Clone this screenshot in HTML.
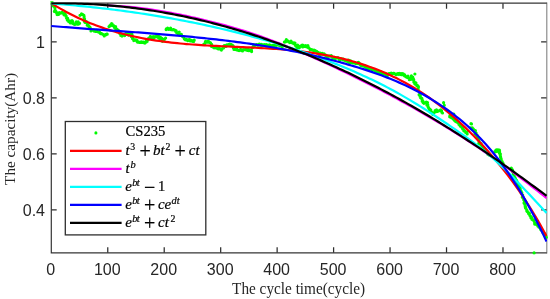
<!DOCTYPE html>
<html><head><meta charset="utf-8"><title>Capacity fit</title>
<style>
html,body{margin:0;padding:0;background:#fff;}
body{width:550px;height:299px;overflow:hidden;}
svg{display:block}
.sans text{font-family:"Liberation Sans",Arial,Helvetica,sans-serif;font-size:16px;fill:#262626}
.serif{font-family:"Liberation Serif","Times New Roman",Times,serif;fill:#262626}
</style></head><body>
<svg width="550" height="299" viewBox="0 0 550 299">
<rect width="550" height="299" fill="#fff"/>
<path d="M107.76,252.8v-5.6M107.76,3.2v5.6M164.22,252.8v-5.6M164.22,3.2v5.6M220.68,252.8v-5.6M220.68,3.2v5.6M277.14,252.8v-5.6M277.14,3.2v5.6M333.60,252.8v-5.6M333.60,3.2v5.6M390.06,252.8v-5.6M390.06,3.2v5.6M446.52,252.8v-5.6M446.52,3.2v5.6M502.98,252.8v-5.6M502.98,3.2v5.6M51.3,41.9h5.4M546.5,41.9h-5.4M51.3,97.9h5.4M546.5,97.9h-5.4M51.3,153.9h5.4M546.5,153.9h-5.4M51.3,209.9h5.4M546.5,209.9h-5.4" stroke="#2e2e2e" stroke-width="1.25" fill="none"/>
<path d="M546.8,3.2H51.3V252.8H546.8" fill="none" stroke="#363636" stroke-width="1.2" stroke-linejoin="miter"/>
<path d="M546.8,2.6V253.4" fill="none" stroke="#363636" stroke-width="1.1" stroke-opacity="0.62"/>
<defs><clipPath id="c"><rect x="51.0" y="2.2" width="496.0" height="251.60000000000002"/></clipPath>
<clipPath id="d"><rect x="49.3" y="1.2000000000000002" width="499.2" height="253.60000000000002"/></clipPath></defs>
<path clip-path="url(#d)" d="M52.0,3.8h0M51.9,1.6h0M52.7,4.2h0M52.8,4.3h0M53.6,5.1h0M53.3,6.0h0M53.9,5.6h0M54.7,7.5h0M55.0,7.8h0M54.4,11.4h0M55.0,10.1h0M55.4,10.6h0M55.4,11.4h0M56.3,11.9h0M56.1,12.3h0M57.0,13.4h0M57.1,14.6h0M58.3,14.2h0M58.5,14.4h0M59.0,13.0h0M59.3,12.6h0M60.7,13.1h0M61.2,12.8h0M62.0,12.4h0M62.9,12.9h0M63.5,13.6h0M64.0,14.8h0M64.7,13.7h0M65.2,14.2h0M66.1,15.8h0M65.6,15.3h0M66.1,16.5h0M66.5,18.0h0M66.9,18.6h0M67.3,19.0h0M67.3,20.1h0M67.7,18.4h0M68.7,21.6h0M69.5,20.9h0M70.0,21.1h0M70.3,23.0h0M70.8,22.9h0M71.5,21.6h0M72.0,20.6h0M72.7,21.4h0M72.7,22.0h0M73.4,23.7h0M73.7,24.0h0M74.3,24.3h0M74.8,24.4h0M76.0,22.9h0M76.3,21.9h0M76.7,23.2h0M76.2,23.9h0M77.0,24.1h0M77.4,24.1h0M78.3,24.2h0M78.2,21.9h0M79.6,23.3h0M80.0,15.3h0M81.5,13.9h0M82.0,14.3h0M82.9,14.6h0M83.9,15.3h0M84.1,16.5h0M84.2,18.3h0M84.1,17.6h0M84.6,19.1h0M84.2,19.5h0M84.3,21.3h0M85.0,21.4h0M85.1,22.4h0M86.3,21.5h0M86.5,22.7h0M87.3,23.0h0M87.2,25.2h0M87.6,25.3h0M88.2,25.3h0M88.9,25.9h0M89.1,27.1h0M89.8,27.0h0M90.2,27.5h0M91.1,29.1h0M91.0,31.0h0M91.9,29.9h0M92.1,30.2h0M92.9,29.9h0M93.7,29.9h0M94.4,31.2h0M95.6,31.5h0M96.6,31.1h0M97.2,31.5h0M98.0,31.8h0M98.9,32.2h0M99.3,31.6h0M100.0,32.8h0M100.5,33.6h0M100.9,33.4h0M102.2,34.0h0M102.3,34.1h0M103.7,34.8h0M104.2,35.9h0M105.2,35.1h0M105.5,34.7h0M105.9,34.8h0M106.8,34.1h0M107.2,34.2h0M109.0,26.6h0M109.9,26.1h0M110.1,25.3h0M110.9,24.6h0M111.6,23.7h0M111.8,24.7h0M112.1,23.9h0M112.7,25.7h0M113.6,25.6h0M114.5,27.6h0M115.0,28.2h0M115.6,26.7h0M115.9,28.7h0M116.6,29.1h0M117.0,29.1h0M117.6,30.7h0M117.9,30.6h0M118.4,30.3h0M119.1,32.0h0M119.3,32.8h0M119.8,33.6h0M120.6,33.5h0M120.8,35.4h0M122.0,36.1h0M122.1,35.0h0M122.5,35.0h0M123.6,35.1h0M124.2,34.4h0M124.7,35.6h0M125.9,34.3h0M126.2,33.3h0M126.4,33.1h0M128.1,33.4h0M128.6,35.1h0M129.9,33.6h0M130.2,33.9h0M130.8,34.3h0M132.0,34.4h0M131.5,36.7h0M132.1,35.6h0M132.6,37.3h0M132.4,37.7h0M132.6,38.7h0M132.8,38.3h0M133.8,40.6h0M134.1,39.7h0M135.1,40.2h0M135.9,39.9h0M137.0,40.4h0M137.1,41.6h0M137.7,42.2h0M138.9,42.2h0M139.4,42.5h0M140.4,42.3h0M141.2,41.9h0M142.2,42.5h0M142.6,42.4h0M143.5,42.1h0M143.7,42.7h0M144.9,43.1h0M146.2,42.1h0M146.2,41.1h0M146.7,41.2h0M147.1,41.4h0M148.1,39.4h0M148.5,38.8h0M148.7,38.2h0M149.7,38.6h0M150.4,36.4h0M151.3,37.7h0M151.8,38.1h0M153.2,36.7h0M153.7,38.1h0M154.3,37.3h0M155.0,36.5h0M155.9,36.8h0M157.0,35.5h0M157.4,36.3h0M158.6,38.1h0M159.2,36.6h0M160.1,38.7h0M160.8,37.7h0M161.0,39.0h0M160.9,39.1h0M161.9,38.3h0M162.3,40.1h0M162.5,41.3h0M163.1,40.6h0M163.4,39.9h0M164.0,40.5h0M164.5,39.2h0M165.6,38.0h0M166.1,29.6h0M166.3,28.9h0M167.6,28.1h0M167.9,28.6h0M168.8,29.4h0M170.0,28.6h0M170.6,28.1h0M171.3,29.7h0M172.2,29.8h0M173.3,29.7h0M173.9,29.8h0M174.8,30.2h0M175.6,30.5h0M175.6,31.3h0M176.2,30.9h0M176.8,33.0h0M177.7,32.9h0M178.4,34.4h0M179.2,32.1h0M179.6,34.3h0M180.4,34.8h0M181.4,34.4h0M181.6,35.5h0M182.5,36.3h0M183.0,36.8h0M183.2,36.7h0M183.9,37.6h0M184.4,39.0h0M185.4,39.8h0M186.4,39.3h0M186.5,39.6h0M187.3,39.9h0M187.6,40.7h0M189.0,39.7h0M189.7,39.7h0M190.3,40.9h0M191.5,40.4h0M191.7,41.0h0M192.9,41.5h0M193.7,41.5h0M194.2,40.2h0M203.9,44.1h0M204.7,43.8h0M205.4,41.7h0M205.7,41.3h0M207.2,42.2h0M207.7,41.6h0M208.3,41.1h0M209.4,42.0h0M209.6,42.5h0M210.5,42.8h0M211.4,44.1h0M211.7,44.5h0M211.3,46.1h0M211.5,46.5h0M212.5,46.7h0M213.7,47.4h0M214.1,47.8h0M215.0,47.6h0M216.0,46.5h0M216.4,48.1h0M217.4,47.8h0M218.4,49.0h0M219.1,48.2h0M219.8,48.8h0M220.3,48.9h0M221.4,50.1h0M221.9,49.2h0M222.8,48.2h0M223.5,47.9h0M223.2,46.8h0M223.3,46.5h0M224.2,45.7h0M225.0,45.5h0M226.0,46.5h0M226.8,44.9h0M227.1,45.2h0M228.0,44.9h0M229.3,45.4h0M229.5,44.1h0M230.9,44.4h0M231.3,44.7h0M232.3,45.2h0M232.7,45.5h0M233.1,45.9h0M233.4,46.4h0M233.4,48.0h0M234.0,49.4h0M234.7,49.0h0M235.5,49.3h0M236.5,49.8h0M236.9,49.2h0M237.5,49.9h0M238.2,50.3h0M239.1,50.6h0M240.2,50.2h0M240.6,49.3h0M241.9,50.7h0M242.5,50.9h0M243.2,49.5h0M243.7,49.8h0M244.9,49.6h0M245.8,49.8h0M246.0,48.3h0M247.5,50.5h0M248.4,49.4h0M248.9,50.7h0M249.7,50.1h0M251.0,50.0h0M251.5,50.4h0M251.6,51.6h0M252.2,47.8h0M252.9,47.2h0M253.3,46.7h0M253.8,44.8h0M254.3,46.3h0M255.2,45.0h0M255.5,45.0h0M256.6,44.5h0M257.8,45.2h0M258.8,44.4h0M259.5,44.1h0M259.9,44.9h0M261.1,45.5h0M261.6,44.4h0M262.8,45.5h0M263.4,44.9h0M264.5,44.5h0M265.8,46.0h0M266.2,44.6h0M267.4,45.9h0M267.7,45.1h0M268.4,45.9h0M269.6,44.9h0M270.5,45.3h0M270.8,46.5h0M271.8,45.9h0M272.2,45.7h0M273.4,45.3h0M274.5,45.7h0M275.1,44.4h0M275.8,44.6h0M276.4,45.3h0M277.7,45.0h0M278.7,45.1h0M279.4,45.6h0M280.2,45.7h0M280.6,45.7h0M282.2,47.0h0M284.4,42.1h0M284.9,41.6h0M285.6,41.8h0M286.3,39.6h0M287.7,40.9h0M287.6,41.1h0M288.6,41.7h0M289.7,42.6h0M290.6,42.3h0M291.0,41.1h0M292.0,42.4h0M292.7,43.1h0M293.5,43.5h0M294.0,42.9h0M295.0,43.1h0M295.2,45.1h0M296.0,45.6h0M295.9,46.0h0M296.9,45.5h0M296.9,48.3h0M297.6,45.0h0M298.9,46.4h0M299.3,47.7h0M300.4,46.0h0M300.8,46.1h0M302.2,45.2h0M302.7,46.9h0M303.2,45.3h0M304.3,46.4h0M305.3,46.4h0M305.7,45.7h0M306.8,47.0h0M307.9,45.7h0M308.2,46.8h0M308.5,47.8h0M309.0,48.0h0M310.0,49.0h0M310.2,49.7h0M310.4,49.4h0M311.7,49.7h0M312.3,50.1h0M313.8,50.2h0M314.2,50.9h0M314.7,50.3h0M315.3,51.2h0M316.3,51.4h0M316.6,51.4h0M317.3,53.0h0M318.1,52.3h0M318.8,53.5h0M319.5,54.7h0M320.3,53.2h0M321.4,54.1h0M322.3,53.3h0M322.2,54.2h0M324.1,53.8h0M324.2,54.7h0M325.3,54.8h0M325.6,55.5h0M326.6,56.6h0M327.4,56.0h0M328.1,56.4h0M329.1,56.2h0M329.8,56.2h0M330.2,56.1h0M331.2,55.6h0M332.2,57.1h0M332.9,58.3h0M333.5,57.7h0M334.3,57.3h0M335.1,58.9h0M335.6,57.8h0M336.3,57.9h0M337.8,57.7h0M338.1,58.1h0M339.0,58.7h0M339.6,60.4h0M340.9,59.2h0M341.8,58.8h0M342.1,59.3h0M343.0,59.8h0M343.5,59.0h0M344.9,60.4h0M345.5,61.0h0M345.8,61.0h0M347.1,61.3h0M347.7,60.3h0M348.5,60.2h0M349.2,62.4h0M349.8,62.4h0M350.6,60.9h0M351.6,62.3h0M352.3,62.3h0M352.8,62.9h0M354.3,62.8h0M354.6,62.6h0M355.3,63.3h0M356.0,63.5h0M357.1,63.6h0M357.9,62.7h0M358.5,62.3h0M359.4,64.0h0M359.6,63.7h0M360.6,65.2h0M361.4,65.7h0M362.2,65.7h0M363.1,65.6h0M363.3,66.1h0M365.3,67.1h0M365.1,66.1h0M366.1,67.5h0M367.0,67.7h0M367.7,67.7h0M368.3,68.8h0M368.3,67.6h0M369.5,69.0h0M370.7,68.1h0M371.0,68.5h0M371.8,68.6h0M372.2,69.9h0M373.8,69.3h0M374.4,70.2h0M374.8,69.8h0M375.7,71.5h0M376.5,72.3h0M377.0,71.6h0M377.9,72.8h0M378.8,72.4h0M379.6,73.7h0M380.6,72.7h0M381.0,71.9h0M381.6,74.2h0M382.6,73.5h0M383.1,73.2h0M383.7,73.7h0M385.0,73.4h0M385.4,74.5h0M386.3,74.0h0M387.3,75.7h0M387.6,75.2h0M388.9,73.7h0M389.6,73.6h0M390.3,74.0h0M391.2,73.0h0M391.7,73.9h0M392.1,73.8h0M393.4,73.3h0M394.0,73.4h0M395.3,74.0h0M395.9,74.6h0M396.5,74.6h0M397.5,73.7h0M398.6,74.3h0M399.3,73.4h0M399.9,74.3h0M400.8,73.5h0M401.4,74.7h0M402.2,73.5h0M403.2,73.9h0M403.7,75.0h0M404.4,75.8h0M404.7,74.9h0M405.3,76.0h0M406.0,76.8h0M407.0,77.3h0M408.1,77.0h0M408.7,78.1h0M408.9,78.2h0M409.4,79.7h0M410.7,78.7h0M411.3,77.0h0M411.4,75.9h0M412.7,77.0h0M412.7,78.5h0M413.3,78.6h0M413.3,79.8h0M413.7,79.7h0M413.8,79.9h0M413.8,82.0h0M414.2,82.3h0M414.6,83.4h0M415.5,82.6h0M415.5,84.3h0M415.9,84.4h0M417.0,85.9h0M417.6,85.6h0M418.2,86.3h0M418.5,86.9h0M418.3,88.8h0M419.1,94.7h0M419.6,95.4h0M420.1,96.4h0M420.3,95.6h0M420.6,97.7h0M421.5,98.5h0M421.9,98.4h0M422.2,99.8h0M422.2,101.2h0M422.9,101.2h0M423.1,102.6h0M423.9,103.3h0M424.3,102.8h0M425.4,102.7h0M426.3,102.0h0M427.1,102.9h0M427.5,102.5h0M427.0,103.2h0M426.9,104.9h0M427.8,104.8h0M428.0,106.4h0M428.3,107.5h0M428.5,107.6h0M429.0,108.3h0M429.3,109.5h0M429.4,110.1h0M430.1,109.3h0M430.8,110.1h0M430.9,112.6h0M431.9,112.7h0M431.5,111.8h0M432.2,113.0h0M432.9,114.6h0M432.9,113.7h0M433.2,113.9h0M433.6,113.0h0M434.2,112.5h0M435.1,110.7h0M435.3,111.2h0M435.9,111.7h0M436.5,109.9h0M437.6,111.3h0M438.3,111.1h0M438.8,110.8h0M439.8,110.4h0M440.7,109.8h0M441.5,110.6h0M441.8,112.2h0M442.5,113.0h0M449.7,116.8h0M449.9,115.6h0M450.8,115.8h0M451.6,117.8h0M452.0,118.0h0M452.8,118.3h0M453.3,119.1h0M454.0,119.2h0M454.4,120.3h0M455.2,120.3h0M455.7,121.6h0M456.6,120.8h0M456.7,121.6h0M457.8,122.7h0M458.7,122.9h0M459.0,124.4h0M459.4,124.6h0M460.0,124.9h0M460.2,126.1h0M460.7,126.3h0M461.3,126.3h0M461.8,127.3h0M462.6,128.2h0M462.7,129.0h0M463.9,129.9h0M463.9,130.9h0M464.8,131.2h0M465.7,132.5h0M466.6,132.6h0M466.9,132.2h0M467.2,133.9h0M470.8,127.8h0M471.8,128.1h0M472.3,127.9h0M472.9,128.5h0M473.6,129.3h0M474.2,130.3h0M475.0,131.4h0M475.4,130.7h0M475.0,133.8h0M476.1,133.0h0M476.0,133.5h0M476.3,134.9h0M477.1,135.3h0M477.0,137.5h0M477.4,137.5h0M477.9,137.3h0M477.8,138.1h0M477.9,138.8h0M478.5,139.7h0M479.0,141.1h0M479.0,141.0h0M478.8,143.3h0M479.4,142.9h0M480.0,143.5h0M480.9,144.9h0M481.1,143.7h0M481.6,145.1h0M482.1,146.8h0M482.2,147.1h0M482.8,147.7h0M483.4,148.6h0M483.6,148.5h0M484.5,149.4h0M485.2,149.2h0M485.4,149.4h0M486.4,152.1h0M486.9,151.2h0M487.5,152.0h0M487.6,154.0h0M488.4,154.4h0M489.3,154.0h0M489.7,154.6h0M489.8,155.5h0M494.8,151.7h0M495.5,151.8h0M495.8,150.3h0M496.4,149.9h0M497.2,151.3h0M497.8,149.9h0M498.7,150.0h0M499.4,150.0h0M499.6,151.0h0M499.4,153.2h0M499.8,153.0h0M499.5,153.1h0M500.4,154.1h0M500.3,155.5h0M500.6,156.9h0M500.4,156.7h0M500.8,158.5h0M501.1,158.5h0M501.3,159.9h0M501.1,160.8h0M502.0,161.6h0M502.2,161.6h0M502.4,162.6h0M503.0,163.8h0M503.1,163.4h0M503.4,165.1h0M511.3,168.1h0M511.6,169.4h0M512.5,169.9h0M512.6,170.5h0M512.4,170.7h0M512.7,171.8h0M513.3,173.2h0M513.3,174.5h0M514.2,174.5h0M514.0,176.2h0M514.0,176.0h0M514.3,176.1h0M515.2,178.0h0M514.9,177.7h0M515.7,179.3h0M516.0,180.5h0M516.6,180.3h0M516.8,181.2h0M516.9,183.6h0M517.5,182.8h0M517.7,183.6h0M518.3,184.7h0M518.4,184.8h0M519.3,185.5h0M519.1,186.6h0M519.5,185.6h0M519.5,188.8h0M520.0,188.0h0M520.2,188.7h0M520.5,190.6h0M521.0,191.0h0M520.9,190.9h0M521.1,192.6h0M521.8,192.5h0M521.8,193.6h0M521.9,193.8h0M522.7,195.0h0M522.8,196.6h0M522.3,197.2h0M523.1,198.1h0M523.7,199.3h0M523.9,199.4h0M523.7,199.8h0M524.4,200.9h0M524.0,202.9h0M524.3,202.7h0M524.5,203.6h0M524.7,204.2h0M525.1,205.2h0M525.3,206.1h0M525.2,206.6h0M525.7,207.3h0M525.4,207.7h0M525.9,208.4h0M526.8,209.9h0M526.8,210.9h0M527.4,211.7h0M527.4,211.8h0M528.0,211.9h0M528.5,213.5h0M529.1,214.1h0M529.4,213.4h0M529.9,215.6h0M530.4,216.2h0M530.9,217.7h0M530.9,216.6h0M531.4,217.2h0M531.9,219.2h0M531.9,218.3h0M532.2,219.6h0M533.5,220.1h0M533.9,220.8h0M534.0,220.9h0M534.5,222.6h0M534.7,224.1h0M535.3,224.1h0M536.4,224.5h0M536.7,224.3h0M537.8,226.1h0M538.0,226.1h0M538.8,227.1h0M539.7,226.0h0M540.2,227.9h0M540.2,227.6h0M541.0,229.2h0M540.9,229.8h0M541.5,229.6h0M542.2,231.1h0M542.9,232.4h0M542.9,232.6h0M543.7,233.3h0M544.0,233.1h0M544.1,233.9h0M544.9,234.3h0M545.8,235.7h0M545.8,237.1h0M546.4,237.3h0M414.9,74.0h0M405.0,75.5h0M408.0,76.2h0M411.0,79.3h0M413.0,79.5h0M416.0,83.0h0M443.6,102.7h0M444.3,105.3h0M453.8,114.2h0M471.0,123.7h0M471.5,123.9h0M534.1,252.9h0" fill="none" stroke="#00fa00" stroke-width="3.2" stroke-linecap="round"/>
<g clip-path="url(#c)" fill="none" stroke-width="2.2" stroke-linejoin="round">
<path d="M51.3,3.29 L54.3,5.13 L57.3,6.92 L60.3,8.65 L63.3,10.33 L66.3,11.96 L69.3,13.53 L72.3,15.05 L75.3,16.52 L78.3,17.95 L81.3,19.32 L84.3,20.65 L87.3,21.92 L90.3,23.16 L93.3,24.35 L96.3,25.49 L99.3,26.59 L102.3,27.65 L105.3,28.67 L108.3,29.65 L111.3,30.59 L114.3,31.49 L117.3,32.35 L120.3,33.18 L123.3,33.97 L126.3,34.73 L129.3,35.45 L132.3,36.14 L135.3,36.80 L138.3,37.43 L141.3,38.02 L144.3,38.59 L147.3,39.13 L150.3,39.65 L153.3,40.13 L156.3,40.59 L159.3,41.03 L162.3,41.45 L165.3,41.84 L168.3,42.21 L171.3,42.56 L174.3,42.89 L177.3,43.20 L180.3,43.49 L183.3,43.77 L186.3,44.03 L189.3,44.27 L192.3,44.50 L195.3,44.72 L198.3,44.93 L201.3,45.12 L204.3,45.30 L207.3,45.48 L210.3,45.64 L213.3,45.80 L216.3,45.95 L219.3,46.10 L222.3,46.24 L225.3,46.38 L228.3,46.51 L231.3,46.65 L234.3,46.78 L237.3,46.91 L240.3,47.04 L243.3,47.17 L246.3,47.31 L249.3,47.45 L252.3,47.59 L255.3,47.74 L258.3,47.90 L261.3,48.06 L264.3,48.24 L267.3,48.42 L270.3,48.61 L273.3,48.81 L276.3,49.02 L279.3,49.25 L282.3,49.49 L285.3,49.75 L288.3,50.02 L291.3,50.31 L294.3,50.61 L297.3,50.94 L300.3,51.28 L303.3,51.64 L306.3,52.03 L309.3,52.44 L312.3,52.87 L315.3,53.32 L318.3,53.80 L321.3,54.31 L324.3,54.84 L327.3,55.40 L330.3,55.99 L333.3,56.61 L336.3,57.25 L339.3,57.94 L342.3,58.65 L345.3,59.40 L348.3,60.18 L351.3,60.99 L354.3,61.84 L357.3,62.73 L360.3,63.66 L363.3,64.63 L366.3,65.63 L369.3,66.68 L372.3,67.77 L375.3,68.90 L378.3,70.08 L381.3,71.30 L384.3,72.56 L387.3,73.88 L390.3,75.24 L393.3,76.65 L396.3,78.11 L399.3,79.62 L402.3,81.18 L405.3,82.80 L408.3,84.47 L411.3,86.19 L414.3,87.98 L417.3,89.82 L420.3,91.71 L423.3,93.67 L426.3,95.69 L429.3,97.77 L432.3,99.92 L435.3,102.12 L438.3,104.39 L441.3,106.73 L444.3,109.12 L447.3,111.58 L450.3,114.10 L453.3,116.69 L456.3,119.33 L459.3,122.04 L462.3,124.82 L465.3,127.65 L468.3,130.55 L471.3,133.52 L474.3,136.54 L477.3,139.63 L480.3,142.79 L483.3,146.01 L486.3,149.30 L489.3,152.66 L492.3,156.10 L495.3,159.63 L498.3,163.24 L501.3,166.94 L504.3,170.73 L507.3,174.62 L510.3,178.61 L513.3,182.70 L516.3,186.91 L519.3,191.22 L522.3,195.65 L525.3,200.20 L528.3,204.88 L531.3,209.68 L534.3,214.61 L537.3,219.68 L540.3,224.88 L543.3,230.23 L546.3,235.72 L546.5,236.10" stroke="#ff0000"/>
<path d="M108.3,5.39 L111.3,5.61 L114.3,5.85 L117.3,6.07 L120.3,6.26 L123.3,6.47 L126.3,6.70 L129.3,6.94 L132.3,7.19 L135.3,7.46 L138.3,7.81 L141.3,8.17 L144.3,8.54 L147.3,8.94 L150.3,9.34 L153.3,9.81 L156.3,10.29 L159.3,10.79 L162.3,11.30 L165.3,11.83 L168.3,12.37 L171.3,12.93 L174.3,13.50 L177.3,14.09 L180.3,14.69 L183.3,15.31 L186.3,15.94 L189.3,16.59 L192.3,17.25 L195.3,17.92 L198.3,18.62 L201.3,19.32 L204.3,20.03 L207.3,20.76 L210.3,21.50 L213.3,22.25 L216.3,23.02 L219.3,23.81 L222.3,24.61 L225.3,25.42 L228.3,26.25 L231.3,27.10 L234.3,27.96 L237.3,28.83 L240.3,29.72 L243.3,30.62 L246.3,31.54 L249.3,32.47 L252.3,33.48 L255.3,34.52 L258.3,35.58 L261.3,36.65 L264.3,37.74 L267.3,38.84 L270.3,39.96 L273.3,41.09 L276.3,42.24 L279.3,43.40 L282.3,44.57 L285.3,45.76 L288.3,46.97 L291.3,48.18 L294.3,49.42 L297.3,50.66 L300.3,51.92 L303.3,53.18 L306.3,54.46 L309.3,55.75 L312.3,57.06 L315.3,58.38 L318.3,59.71 L321.3,61.06 L324.3,62.42 L327.3,63.80 L330.3,65.19 L333.3,66.59 L336.3,68.01 L339.3,69.44 L342.3,70.89 L345.3,72.35 L348.3,73.83 L351.3,75.29 L354.3,76.73 L357.3,78.19 L360.3,79.66 L363.3,81.15 L366.3,82.65 L369.3,84.16 L372.3,85.69 L375.3,87.23 L378.3,88.78 L381.3,90.35 L384.3,91.93 L387.3,93.53 L390.3,95.14 L393.3,96.76 L396.3,98.40 L399.3,100.05 L402.3,101.69 L405.3,103.33 L408.3,104.98 L411.3,106.65 L414.3,108.33 L417.3,110.03 L420.3,111.74 L423.3,113.46 L426.3,115.20 L429.3,116.95 L432.3,118.71 L435.3,120.48 L438.3,122.27 L441.3,124.08 L444.3,125.91 L447.3,127.76 L450.3,129.62 L453.3,131.49 L456.3,133.37 L459.3,135.27 L462.3,137.17 L465.3,139.10 L468.3,141.03 L471.3,142.98 L474.3,144.96 L477.3,146.95 L480.3,148.96 L483.3,150.97 L486.3,153.00 L489.3,155.04 L492.3,157.09 L495.3,159.15 L498.3,161.23 L501.3,163.36 L504.3,165.56 L507.3,167.78 L510.3,170.01 L513.3,172.25 L516.3,174.50 L519.3,176.76 L522.3,179.06 L525.3,181.37 L528.3,183.70 L531.3,186.04 L534.3,188.39 L537.3,190.75 L540.3,193.12 L543.3,195.50 L546.3,197.90 L546.5,198.06" stroke="#ff00ff"/>
<path d="M51.3,3.48 L54.3,3.71 L57.3,3.95 L60.3,4.19 L63.3,4.44 L66.3,4.70 L69.3,4.96 L72.3,5.23 L75.3,5.51 L78.3,5.79 L81.3,6.08 L84.3,6.38 L87.3,6.69 L90.3,7.00 L93.3,7.32 L96.3,7.64 L99.3,7.98 L102.3,8.32 L105.3,8.67 L108.3,9.03 L111.3,9.39 L114.3,9.76 L117.3,10.14 L120.3,10.53 L123.3,10.93 L126.3,11.33 L129.3,11.75 L132.3,12.17 L135.3,12.60 L138.3,13.03 L141.3,13.48 L144.3,13.93 L147.3,14.40 L150.3,14.87 L153.3,15.35 L156.3,15.84 L159.3,16.34 L162.3,16.84 L165.3,17.36 L168.3,17.89 L171.3,18.42 L174.3,18.96 L177.3,19.52 L180.3,20.08 L183.3,20.65 L186.3,21.23 L189.3,21.82 L192.3,22.42 L195.3,23.03 L198.3,23.65 L201.3,24.28 L204.3,24.92 L207.3,25.57 L210.3,26.23 L213.3,26.90 L216.3,27.58 L219.3,28.28 L222.3,28.98 L225.3,29.69 L228.3,30.41 L231.3,31.14 L234.3,31.89 L237.3,32.64 L240.3,33.40 L243.3,34.18 L246.3,34.97 L249.3,35.76 L252.3,36.57 L255.3,37.39 L258.3,38.22 L261.3,39.07 L264.3,39.92 L267.3,40.79 L270.3,41.66 L273.3,42.55 L276.3,43.45 L279.3,44.36 L282.3,45.29 L285.3,46.22 L288.3,47.17 L291.3,48.13 L294.3,49.10 L297.3,50.08 L300.3,51.08 L303.3,52.09 L306.3,53.11 L309.3,54.14 L312.3,55.19 L315.3,56.25 L318.3,57.33 L321.3,58.42 L324.3,59.53 L327.3,60.66 L330.3,61.80 L333.3,62.96 L336.3,64.14 L339.3,65.33 L342.3,66.55 L345.3,67.78 L348.3,69.04 L351.3,70.31 L354.3,71.61 L357.3,72.92 L360.3,74.26 L363.3,75.63 L366.3,77.01 L369.3,78.42 L372.3,79.85 L375.3,81.31 L378.3,82.79 L381.3,84.30 L384.3,85.83 L387.3,87.39 L390.3,88.98 L393.3,90.59 L396.3,92.24 L399.3,93.91 L402.3,95.61 L405.3,97.34 L408.3,99.09 L411.3,100.88 L414.3,102.69 L417.3,104.52 L420.3,106.38 L423.3,108.26 L426.3,110.16 L429.3,112.09 L432.3,114.03 L435.3,115.99 L438.3,117.98 L441.3,119.98 L444.3,121.99 L447.3,124.02 L450.3,126.07 L453.3,128.13 L456.3,130.20 L459.3,132.28 L462.3,134.39 L465.3,136.52 L468.3,138.69 L471.3,140.88 L474.3,143.12 L477.3,145.41 L480.3,147.75 L483.3,150.14 L486.3,152.60 L489.3,155.13 L492.3,157.72 L495.3,160.37 L498.3,163.09 L501.3,165.87 L504.3,168.71 L507.3,171.61 L510.3,174.56 L513.3,177.58 L516.3,180.65 L519.3,183.77 L522.3,186.93 L525.3,190.13 L528.3,193.35 L531.3,196.59 L534.3,199.83 L537.3,203.08 L540.3,206.31 L543.3,209.52 L546.3,212.70 L546.5,212.91" stroke="#00ffff"/>
<path d="M51.3,26.00 L54.3,26.25 L57.3,26.50 L60.3,26.74 L63.3,26.99 L66.3,27.22 L69.3,27.46 L72.3,27.69 L75.3,27.92 L78.3,28.15 L81.3,28.37 L84.3,28.59 L87.3,28.81 L90.3,29.03 L93.3,29.25 L96.3,29.47 L99.3,29.68 L102.3,29.89 L105.3,30.11 L108.3,30.32 L111.3,30.53 L114.3,30.74 L117.3,30.96 L120.3,31.17 L123.3,31.38 L126.3,31.60 L129.3,31.81 L132.3,32.03 L135.3,32.25 L138.3,32.47 L141.3,32.69 L144.3,32.91 L147.3,33.14 L150.3,33.37 L153.3,33.60 L156.3,33.83 L159.3,34.07 L162.3,34.31 L165.3,34.56 L168.3,34.80 L171.3,35.06 L174.3,35.31 L177.3,35.57 L180.3,35.84 L183.3,36.11 L186.3,36.38 L189.3,36.66 L192.3,36.95 L195.3,37.24 L198.3,37.54 L201.3,37.84 L204.3,38.15 L207.3,38.47 L210.3,38.79 L213.3,39.12 L216.3,39.46 L219.3,39.80 L222.3,40.16 L225.3,40.51 L228.3,40.88 L231.3,41.26 L234.3,41.64 L237.3,42.04 L240.3,42.44 L243.3,42.85 L246.3,43.27 L249.3,43.70 L252.3,44.14 L255.3,44.59 L258.3,45.05 L261.3,45.52 L264.3,46.00 L267.3,46.49 L270.3,46.99 L273.3,47.50 L276.3,48.03 L279.3,48.56 L282.3,49.11 L285.3,49.67 L288.3,50.24 L291.3,50.83 L294.3,51.43 L297.3,52.04 L300.3,52.66 L303.3,53.30 L306.3,53.95 L309.3,54.61 L312.3,55.29 L315.3,55.98 L318.3,56.69 L321.3,57.41 L324.3,58.14 L327.3,58.89 L330.3,59.66 L333.3,60.44 L336.3,61.23 L339.3,62.05 L342.3,62.87 L345.3,63.72 L348.3,64.58 L351.3,65.46 L354.3,66.35 L357.3,67.26 L360.3,68.19 L363.3,69.14 L366.3,70.12 L369.3,71.11 L372.3,72.13 L375.3,73.17 L378.3,74.24 L381.3,75.34 L384.3,76.47 L387.3,77.63 L390.3,78.83 L393.3,80.05 L396.3,81.32 L399.3,82.62 L402.3,83.96 L405.3,85.34 L408.3,86.77 L411.3,88.23 L414.3,89.75 L417.3,91.30 L420.3,92.91 L423.3,94.57 L426.3,96.27 L429.3,98.03 L432.3,99.84 L435.3,101.71 L438.3,103.64 L441.3,105.62 L444.3,107.66 L447.3,109.77 L450.3,111.94 L453.3,114.19 L456.3,116.52 L459.3,118.92 L462.3,121.41 L465.3,123.99 L468.3,126.66 L471.3,129.42 L474.3,132.29 L477.3,135.25 L480.3,138.33 L483.3,141.52 L486.3,144.83 L489.3,148.25 L492.3,151.80 L495.3,155.48 L498.3,159.28 L501.3,163.23 L504.3,167.31 L507.3,171.54 L510.3,175.91 L513.3,180.43 L516.3,185.11 L519.3,189.94 L522.3,194.94 L525.3,200.09 L528.3,205.42 L531.3,210.91 L534.3,216.57 L537.3,222.41 L540.3,228.44 L543.3,234.64 L546.3,241.03 L546.5,241.46" stroke="#0000ff"/>
<path d="M51.3,3.31 L54.3,3.27 L57.3,3.25 L60.3,3.25 L63.3,3.26 L66.3,3.29 L69.3,3.33 L72.3,3.39 L75.3,3.47 L78.3,3.56 L81.3,3.66 L84.3,3.78 L87.3,3.92 L90.3,4.07 L93.3,4.23 L96.3,4.42 L99.3,4.61 L102.3,4.83 L105.3,5.05 L108.3,5.30 L111.3,5.56 L114.3,5.83 L117.3,6.12 L120.3,6.42 L123.3,6.74 L126.3,7.08 L129.3,7.43 L132.3,7.79 L135.3,8.17 L138.3,8.56 L141.3,8.97 L144.3,9.40 L147.3,9.84 L150.3,10.30 L153.3,10.77 L156.3,11.25 L159.3,11.75 L162.3,12.27 L165.3,12.80 L168.3,13.34 L171.3,13.90 L174.3,14.48 L177.3,15.07 L180.3,15.67 L183.3,16.29 L186.3,16.93 L189.3,17.58 L192.3,18.24 L195.3,18.92 L198.3,19.61 L201.3,20.32 L204.3,21.05 L207.3,21.79 L210.3,22.54 L213.3,23.31 L216.3,24.09 L219.3,24.89 L222.3,25.70 L225.3,26.52 L228.3,27.37 L231.3,28.22 L234.3,29.09 L237.3,29.98 L240.3,30.88 L243.3,31.79 L246.3,32.72 L249.3,33.66 L252.3,34.62 L255.3,35.59 L258.3,36.58 L261.3,37.58 L264.3,38.60 L267.3,39.63 L270.3,40.67 L273.3,41.73 L276.3,42.81 L279.3,43.90 L282.3,45.00 L285.3,46.12 L288.3,47.25 L291.3,48.39 L294.3,49.55 L297.3,50.73 L300.3,51.91 L303.3,53.12 L306.3,54.33 L309.3,55.57 L312.3,56.81 L315.3,58.07 L318.3,59.34 L321.3,60.63 L324.3,61.94 L327.3,63.25 L330.3,64.58 L333.3,65.93 L336.3,67.29 L339.3,68.66 L342.3,70.05 L345.3,71.45 L348.3,72.86 L351.3,74.29 L354.3,75.73 L357.3,77.19 L360.3,78.66 L363.3,80.15 L366.3,81.65 L369.3,83.16 L372.3,84.69 L375.3,86.23 L378.3,87.78 L381.3,89.35 L384.3,90.93 L387.3,92.53 L390.3,94.14 L393.3,95.76 L396.3,97.40 L399.3,99.05 L402.3,100.72 L405.3,102.39 L408.3,104.09 L411.3,105.79 L414.3,107.51 L417.3,109.25 L420.3,110.99 L423.3,112.75 L426.3,114.53 L429.3,116.31 L432.3,118.11 L435.3,119.93 L438.3,121.75 L441.3,123.59 L444.3,125.44 L447.3,127.31 L450.3,129.19 L453.3,131.08 L456.3,132.98 L459.3,134.89 L462.3,136.82 L465.3,138.76 L468.3,140.72 L471.3,142.68 L474.3,144.66 L477.3,146.65 L480.3,148.66 L483.3,150.67 L486.3,152.70 L489.3,154.74 L492.3,156.79 L495.3,158.85 L498.3,160.93 L501.3,163.02 L504.3,165.11 L507.3,167.22 L510.3,169.35 L513.3,171.48 L516.3,173.63 L519.3,175.78 L522.3,177.95 L525.3,180.13 L528.3,182.32 L531.3,184.53 L534.3,186.74 L537.3,188.96 L540.3,191.20 L543.3,193.45 L546.3,195.70 L546.5,195.86" stroke="#000000"/>
</g>
<g class="sans"><text x="50.8" y="274.9" text-anchor="middle">0</text><text x="107.3" y="274.9" text-anchor="middle">100</text><text x="163.7" y="274.9" text-anchor="middle">200</text><text x="220.2" y="274.9" text-anchor="middle">300</text><text x="276.6" y="274.9" text-anchor="middle">400</text><text x="333.1" y="274.9" text-anchor="middle">500</text><text x="389.6" y="274.9" text-anchor="middle">600</text><text x="446.0" y="274.9" text-anchor="middle">700</text><text x="502.5" y="274.9" text-anchor="middle">800</text><text x="45" y="47.8" text-anchor="end">1</text><text x="45" y="103.8" text-anchor="end">0.8</text><text x="45" y="159.8" text-anchor="end">0.6</text><text x="45" y="215.8" text-anchor="end">0.4</text></g>
<text class="serif" transform="translate(298.6,293.6) scale(0.9375,1)" font-size="16.3" text-anchor="middle">The cycle time(cycle)</text>
<text class="serif" transform="translate(14.5,128.9) rotate(-90) scale(0.982,1)" font-size="15.5" text-anchor="middle">The capacity(Ahr)</text>
<rect x="65.3" y="121.5" width="140.5" height="113.4" fill="#fff" stroke="#2e2e2e" stroke-width="1.3"/>
<g stroke-width="2.2" fill="none">
<path d="M95.9,132.9h0" stroke="#00fa00" stroke-width="3.1" stroke-linecap="round"/>
<path d="M70,150.9H121.6" stroke="#ff0000"/><path d="M70,168.9H121.6" stroke="#ff00ff"/><path d="M70,186.9H121.6" stroke="#00ffff"/><path d="M70,204.9H121.6" stroke="#0000ff"/><path d="M70,222.9H121.6" stroke="#000000"/>
</g>
<g class="serif" font-size="14.6" style="fill:#000;stroke:#000;stroke-width:0.2">
<text x="125.55" y="136.3">CS235</text>
<text><tspan x="125.5" y="154.9" font-style="italic" font-size="15">t</tspan><tspan x="130.35" y="150.1" font-size="9.8">3</tspan><tspan x="145.05" y="157.9" font-size="20" text-anchor="middle">+</tspan><tspan x="153.0" y="154.9" font-style="italic" font-size="15">b</tspan><tspan x="160.5" y="154.9" font-style="italic" font-size="15">t</tspan><tspan x="165.6" y="150.1" font-size="9.8">2</tspan><tspan x="180.1" y="157.9" font-size="20" text-anchor="middle">+</tspan><tspan x="188.7" y="154.9" font-style="italic" font-size="15">c</tspan><tspan x="195.6" y="154.9" font-style="italic" font-size="15">t</tspan></text>
<text><tspan x="125.5" y="172.9" font-style="italic" font-size="15">t</tspan><tspan x="130.4" y="168.1" font-size="10.4" font-style="italic">b</tspan></text>
<text><tspan x="125.2" y="191.0" font-style="italic" font-size="15">e</tspan><tspan x="132.2" y="186.2" font-size="10.4" font-style="italic">b</tspan><tspan x="136.7" y="186.2" font-size="10.4" font-style="italic">t</tspan><tspan x="149.7" y="194.0" font-size="20" text-anchor="middle">−</tspan><tspan x="158.1" y="191.0">1</tspan></text>
<text><tspan x="125.2" y="209.0" font-style="italic" font-size="15">e</tspan><tspan x="132.2" y="204.2" font-size="10.4" font-style="italic">b</tspan><tspan x="136.7" y="204.2" font-size="10.4" font-style="italic">t</tspan><tspan x="149.6" y="212.0" font-size="20" text-anchor="middle">+</tspan><tspan x="157.9" y="209.0" font-style="italic" font-size="15">c</tspan><tspan x="164.5" y="209.0" font-style="italic" font-size="15">e</tspan><tspan x="171.55" y="204.2" font-size="10.4" font-style="italic">d</tspan><tspan x="176.8" y="204.2" font-size="10.4" font-style="italic">t</tspan></text>
<text><tspan x="125.2" y="227.1" font-style="italic" font-size="15">e</tspan><tspan x="132.2" y="222.3" font-size="10.4" font-style="italic">b</tspan><tspan x="136.7" y="222.3" font-size="10.4" font-style="italic">t</tspan><tspan x="149.6" y="230.1" font-size="20" text-anchor="middle">+</tspan><tspan x="157.9" y="227.1" font-style="italic" font-size="15">c</tspan><tspan x="164.8" y="227.1" font-style="italic" font-size="15">t</tspan><tspan x="170.5" y="222.3" font-size="9.8">2</tspan></text>
</g>
</svg>
</body></html>
